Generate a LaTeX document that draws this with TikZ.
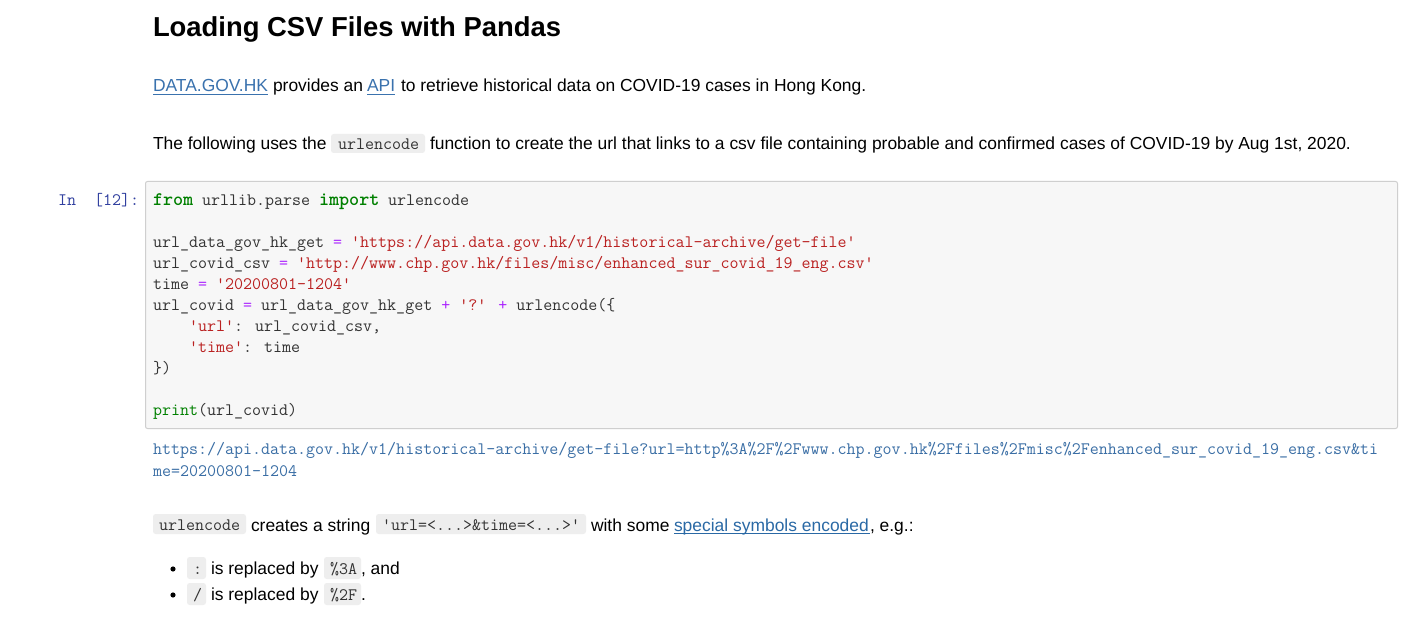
\documentclass[tikz,border=0pt]{standalone}
\usepackage{fontspec}
\setmainfont{Liberation Sans}
\definecolor{linkc}{HTML}{3A72AE}
\definecolor{linkd}{HTML}{2A69A5}
\definecolor{kw}{HTML}{008000}
\definecolor{strc}{HTML}{BA2121}
\definecolor{opc}{HTML}{AA22FF}
\definecolor{namec}{HTML}{333333}
\definecolor{outc}{HTML}{3A6EA5}
\definecolor{promptc}{HTML}{303F9F}
\newcommand{\Kw}[1]{\textcolor{kw}{#1}}
\newcommand{\St}[1]{\textcolor{strc}{#1}}
\newcommand{\Op}[1]{\textcolor{opc}{#1}}
\tikzset{
  x=0.75pt,y=-0.75pt,
  txt/.style={anchor=base west,inner sep=0pt,outer sep=0pt,text=black,font=\fontsize{13.08pt}{16pt}\selectfont},
  linktxt/.style={txt,text=linkc},
  heading/.style={anchor=base west,inner sep=0pt,outer sep=0pt,text=black,font=\fontsize{20.55pt}{24pt}\selectfont\bfseries},
  mono/.style={anchor=base west,inner sep=0pt,outer sep=0pt,text=namec,font=\fontsize{13.12pt}{16pt}\selectfont\ttfamily},
  monokw/.style={mono,text=kw,font=\fontsize{14.4pt}{16pt}\selectfont\ttfamily\bfseries},
  inl/.style={fill=black!6.5!white,draw=none,rounded corners=2pt},
  codecell/.style={fill=black!3,draw=black!19,line width=0.75pt,rounded corners=1.5pt},
  ulink/.style={draw=linkc,line width=0.75pt},
}
\begin{document}
\begin{tikzpicture}
\useasboundingbox (0,0) rectangle (1424,634);
\fill[white] (0,0) rectangle (1424,634);
\node[heading] (title) at (153,37) {Loading CSV Files with Pandas};
% intro line
\node[linktxt] (lnk1) at (153,92) {DATA.GOV.HK};
\node[txt] (t1) at (273,92) {provides an};
\node[linktxt] (lnk2) at (367,92) {API};
\node[txt] (t2) at (401,92) {to retrieve historical data on COVID-19 cases in Hong Kong.};
\draw[ulink] (153,94.5) -- (268,94.5);
\draw[ulink] (367,94.5) -- (395,94.5);
% second line
\node[txt] (t3) at (153,150) {The following uses the};
\fill[inl] (331,134) rectangle (425,153);
\node[mono] (c1) at (338,150) {urlencode};
\node[txt] (t4) at (430,150) {function to create the url that links to a csv file containing probable and confirmed cases of COVID-19 by Aug 1st, 2020.};
% code cell
\node[mono,text=promptc] (prompt) at (58,206) {In\hspace{13.5pt}[12]:};
\draw[codecell] (145.5,181.5) rectangle (1397.5,428.5);
\node[monokw] (kw1) at (153,206) {from};
\node[mono] (n1) at (202,206) {urllib.parse};
\node[monokw] (kw2) at (319,206) {import};
\node[mono] (n2) at (388,206) {urlencode};
\node[mono] (l2) at (153,248) {url\_data\_gov\_hk\_get \Op{=} \St{'https://api.data.gov.hk/v1/historical-archive/get-file'}};
\node[mono] (l3) at (153,269) {url\_covid\_csv \Op{=} \St{'http://www.chp.gov.hk/files/misc/enhanced\_sur\_covid\_19\_eng.csv'}};
\node[mono] (l4) at (153,290) {time \Op{=} \St{'20200801-1204'}};
\node[mono] (l5) at (153,311) {url\_covid \Op{=} url\_data\_gov\_hk\_get \Op{+} \St{'?'} \Op{+} urlencode(\{};
\node[mono] (l6) at (153,332) {\hspace{27pt}\St{'url'}: url\_covid\_csv,};
\node[mono] (l7) at (153,353) {\hspace{27pt}\St{'time'}: time};
\node[mono] (l8) at (153,374) {\})};
\node[mono] (l9) at (153,416) {\Kw{print}(url\_covid)};
% output
\node[mono,text=outc] (o1) at (153,455) {https://api.data.gov.hk/v1/historical-archive/get-file?url=http\%3A\%2F\%2Fwww.chp.gov.hk\%2Ffiles\%2Fmisc\%2Fenhanced\_sur\_covid\_19\_eng.csv\&ti};
\node[mono,text=outc] (o2) at (153,476) {me=20200801-1204};
% explanation
\fill[inl] (153,514) rectangle (246,534);
\node[mono] (c2) at (159,530) {urlencode};
\node[txt] (t5) at (251,531) {creates a string};
\fill[inl] (376,514) rectangle (586,534);
\node[mono] (c3) at (382,530) {'url=<...>\&time=<...>'};
\node[txt] (t6) at (591,531) {with some};
\node[txt,text=linkd] (lnk3) at (674,531) {special symbols encoded};
\draw[ulink,draw=linkd] (674,533.5) -- (870,533.5);
\node[txt] (t7) at (870,531) {, e.g.:};
% bullets
\fill[black] (173,569) circle (2.6);
\fill[inl] (187,557) rectangle (206,579);
\node[mono] (c4) at (193,574) {:};
\node[txt] (t8) at (211,574) {is replaced by};
\fill[inl] (324,557) rectangle (361,579);
\node[mono] (c5) at (330,574) {\%3A};
\node[txt] (t9) at (361,574) {, and};
\fill[black] (173,595) circle (2.6);
\fill[inl] (187,583) rectangle (206,605);
\node[mono] (c6) at (193,600) {/};
\node[txt] (t10) at (211,600) {is replaced by};
\fill[inl] (324,583) rectangle (361,605);
\node[mono] (c7) at (330,600) {\%2F};
\node[txt] (t11) at (361,600) {.};
\end{tikzpicture}
\end{document}
